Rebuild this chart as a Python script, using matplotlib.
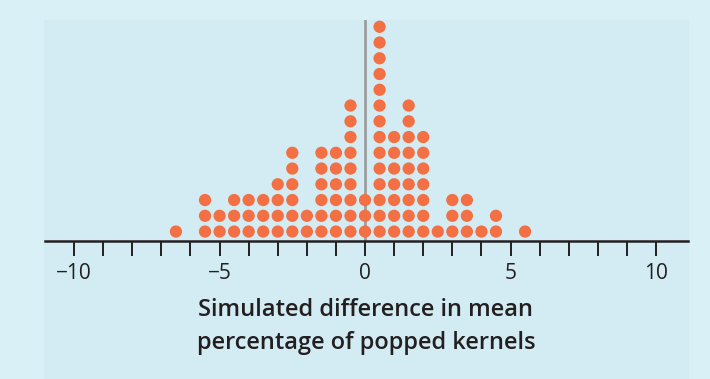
import numpy as np
import matplotlib
matplotlib.use("Agg")
from matplotlib import pyplot as plt

# bin centres (difference in mean, 0.5 wide bins) and number of dots in each
bins = [-6.5, -5.5, -5.0, -4.5, -4.0, -3.5, -3.0, -2.5, -2.0, -1.5, -1.0, -0.5,
        0.0, 0.5, 1.0, 1.5, 2.0, 2.5, 3.0, 3.5, 4.0, 4.5, 5.5]
counts = [1, 3, 2, 3, 3, 3, 4, 6, 2, 6, 6, 9,
          3, 14, 7, 9, 7, 1, 3, 3, 1, 2, 1]
tick_values = list(range(-10, 11))
tick_labels = ["\u221210", "\u22125", "0", "5", "10"]
xlabel = "Simulated difference in mean\npercentage of popped kernels"

plt.rcParams['font.family'] = ['Open Sans', 'DejaVu Sans']

fig = plt.figure(figsize=(7.10, 3.79), dpi=100)
fig.patch.set_facecolor("#d9f0f6")
# slightly darker inner panel
fig.patches.append(plt.Rectangle((44 / 710, 0), (688 - 44) / 710, 1 - 20 / 379,
                                 transform=fig.transFigure, color="#d3ecf3", zorder=-5))

ax = fig.add_axes([45 / 710, 138 / 379, (688 - 45) / 710, 221 / 379])
ax.set_zorder(2)
ax.set_facecolor("none")

xs, ys = [], []
for b, c in zip(bins, counts):
    for k in range(c):
        xs.append(b)
        ys.append(k + 0.6)
ax.scatter(xs, ys, s=78, color="#f36f44", edgecolors="none", zorder=3, clip_on=False)

ax.axvline(0, color="#9b9b9b", lw=1.9, zorder=1)

ax.set_xlim(-11.0, 11.1)
ax.set_ylim(0, 14.03)
for s in ["top", "right", "left"]:
    ax.spines[s].set_visible(False)
ax.spines["bottom"].set_color("#231f20")
ax.spines["bottom"].set_linewidth(1.8)
ax.set_yticks([])
ax.set_xticks(tick_values)
ax.set_xticklabels([tick_labels[[-10, -5, 0, 5, 10].index(v)] if v % 5 == 0 else "" for v in tick_values])
ax.tick_params(axis="x", direction="out", length=11, width=1.4, color="#231f20",
               pad=4.5, labelsize=15, labelcolor="#231f20")

fig.text(366 / 710, 1 - 326.5 / 379, xlabel, ha="center", va="center", fontsize=17,
         fontweight="semibold", color="#231f20", linespacing=1.5, zorder=3)

fig.savefig("out.png", dpi=100, facecolor=fig.get_facecolor())
